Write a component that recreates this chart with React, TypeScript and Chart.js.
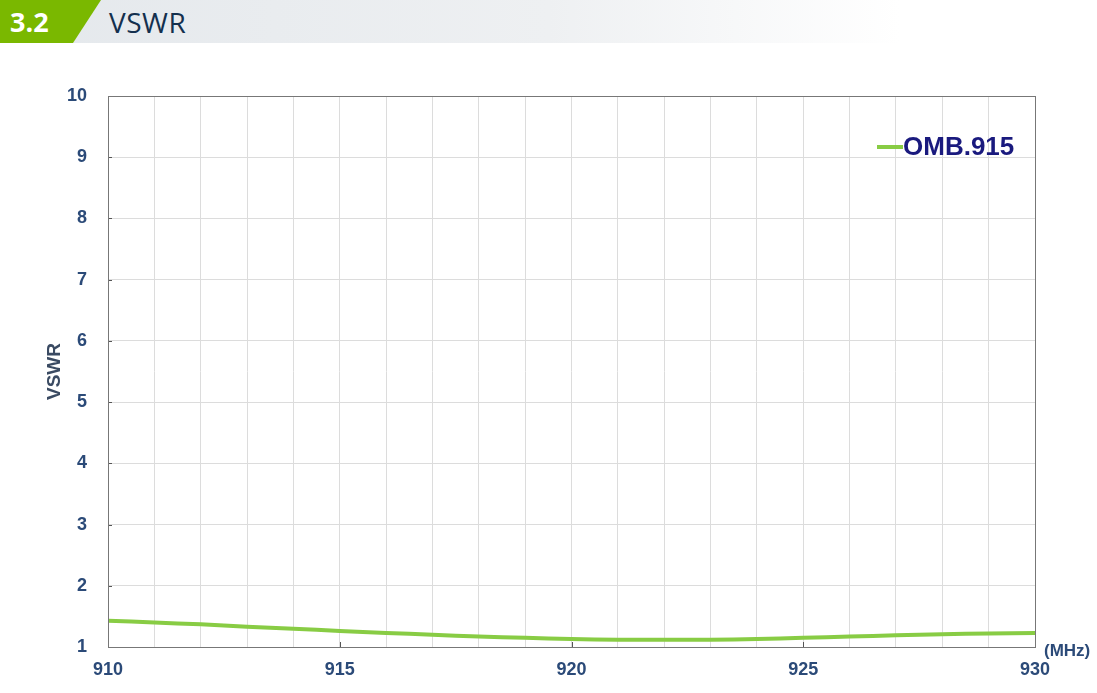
import React, { useEffect, useRef } from "react";
import { Chart, registerables } from "chart.js";

Chart.register(...registerables);

const frequencies = [910, 911, 912, 913, 914, 915, 916, 917, 918, 919, 920, 921, 922, 923, 924, 925, 926, 927, 928, 929, 930];
const vswrValues = [1.43, 1.40, 1.37, 1.33, 1.30, 1.26, 1.23, 1.20, 1.17, 1.15, 1.13, 1.12, 1.12, 1.12, 1.13, 1.15, 1.17, 1.19, 1.21, 1.22, 1.23];
const xTickLabels = [910, 915, 920, 925, 930];
const yTickLabels = [1, 2, 3, 4, 5, 6, 7, 8, 9, 10];
const seriesName = "OMB.915";
const xUnit = "(MHz)";
const yTitle = "VSWR";

const tickColor = "#2b4a78";
const lineColor = "#88cc44";
const FONT = "'Liberation Sans', Arial, sans-serif";

const extrasPlugin = {
  id: "extras",
  afterDraw(chart: any) {
    const { ctx, chartArea } = chart;
    const xs = chart.scales.x;
    const ys = chart.scales.y;
    ctx.save();
    ctx.strokeStyle = "#555";
    ctx.lineWidth = 1;
    yTickLabels.forEach((v) => {
      const y = Math.round(ys.getPixelForValue(v)) + 0.5;
      ctx.beginPath();
      ctx.moveTo(chartArea.left, y);
      ctx.lineTo(chartArea.left + 4, y);
      ctx.stroke();
    });
    xTickLabels.forEach((v) => {
      const x = Math.round(xs.getPixelForValue(v)) + 0.5;
      ctx.beginPath();
      ctx.moveTo(x, chartArea.bottom);
      ctx.lineTo(x, chartArea.bottom - 5);
      ctx.stroke();
    });
    // legend
    const ly = chartArea.top + 51;
    ctx.strokeStyle = lineColor;
    ctx.lineWidth = 4;
    ctx.beginPath();
    ctx.moveTo(chartArea.right - 158, ly);
    ctx.lineTo(chartArea.right - 132, ly);
    ctx.stroke();
    ctx.fillStyle = "#1a1a7e";
    ctx.font = `bold 26px ${FONT}`;
    ctx.textBaseline = "middle";
    ctx.textAlign = "left";
    ctx.fillText(seriesName, chartArea.right - 132, ly + 1);
    // unit label
    ctx.fillStyle = tickColor;
    ctx.font = `bold 17px ${FONT}`;
    ctx.fillText(xUnit, chartArea.right + 9, chartArea.bottom + 4);
    ctx.restore();
  },
};

export default function App() {
  const canvasRef = useRef<HTMLCanvasElement | null>(null);

  useEffect(() => {
    if (!canvasRef.current) return;
    const chart = new Chart(canvasRef.current, {
      type: "line",
      data: {
        datasets: [
          {
            label: seriesName,
            data: frequencies.map((f, i) => ({ x: f, y: vswrValues[i] })),
            borderColor: lineColor,
            borderWidth: 4,
            pointRadius: 0,
            tension: 0.4,
            fill: false,
          },
        ],
      },
      options: {
        animation: false,
        responsive: false,
        maintainAspectRatio: false,
        layout: { padding: { left: 0, top: 96, right: 62, bottom: 0 } },
        plugins: { legend: { display: false }, tooltip: { enabled: false } },
        scales: {
          x: {
            type: "linear",
            min: 910,
            max: 930,
            afterFit: (s: any) => {
              s.height = 46;
            },
            ticks: {
              stepSize: 1,
              autoSkip: false,
              maxRotation: 0,
              padding: 12,
              color: tickColor,
              font: { family: FONT, size: 18, weight: "bold" },
              callback: (v: any) => (xTickLabels.includes(Number(v)) ? String(v) : ""),
            },
            grid: { color: "#dcdcdc", lineWidth: 1, drawTicks: false },
            border: { color: "#666", width: 1 },
          },
          y: {
            min: 1,
            max: 10,
            afterFit: (s: any) => {
              s.width = 108;
            },
            ticks: {
              stepSize: 1,
              padding: 21,
              color: tickColor,
              font: { family: FONT, size: 18, weight: "bold" },
              callback: (v: any) => (yTickLabels.includes(Number(v)) ? String(v) : ""),
            },
            grid: { color: "#dcdcdc", lineWidth: 1, drawTicks: false },
            border: { color: "#666", width: 1 },
            title: {
              display: true,
              text: yTitle,
              color: "#3a4a62",
              font: { family: FONT, size: 19, weight: "bold" },
              padding: { top: 43, bottom: 0 },
            },
          },
        },
      },
      plugins: [
        extrasPlugin,
        {
          id: "frame",
          afterDraw(chart: any) {
            const { ctx, chartArea } = chart;
            ctx.save();
            ctx.strokeStyle = "#777";
            ctx.lineWidth = 1;
            ctx.strokeRect(
              Math.round(chartArea.left) + 0.5,
              Math.round(chartArea.top) + 0.5,
              Math.round(chartArea.right - chartArea.left),
              Math.round(chartArea.bottom - chartArea.top)
            );
            ctx.restore();
          },
        },
      ],
    });
    return () => chart.destroy();
  }, []);

  return (
    <div style={{ position: "fixed", left: 0, top: 0, width: 1097, height: 693, background: "#fff", overflow: "hidden" }}>
      <div
        style={{
          position: "absolute",
          left: 0,
          top: 0,
          width: 1097,
          height: 43,
          background: "linear-gradient(to right, #e4e8ec 0%, #eef0f2 50%, #ffffff 82%)",
        }}
      />
      <div
        style={{
          position: "absolute",
          left: 0,
          top: 0,
          width: 101,
          height: 43,
          background: "#7ab800",
          clipPath: "polygon(0 0, 101px 0, 73px 43px, 0 43px)",
        }}
      />
      <div
        style={{
          position: "absolute",
          left: 10,
          top: 5,
          color: "#fff",
          font: "bold 27px 'Open Sans', sans-serif",
          lineHeight: "34px",
        }}
      >
        3.2
      </div>
      <div
        style={{
          position: "absolute",
          left: 109,
          top: 5,
          color: "#14304e",
          font: "28px 'Open Sans', sans-serif",
          lineHeight: "34px",
          letterSpacing: "0.5px",
        }}
      >
        VSWR
      </div>
      <canvas ref={canvasRef} width={1097} height={693} style={{ position: "absolute", left: 0, top: 0 }} />
    </div>
  );
}
